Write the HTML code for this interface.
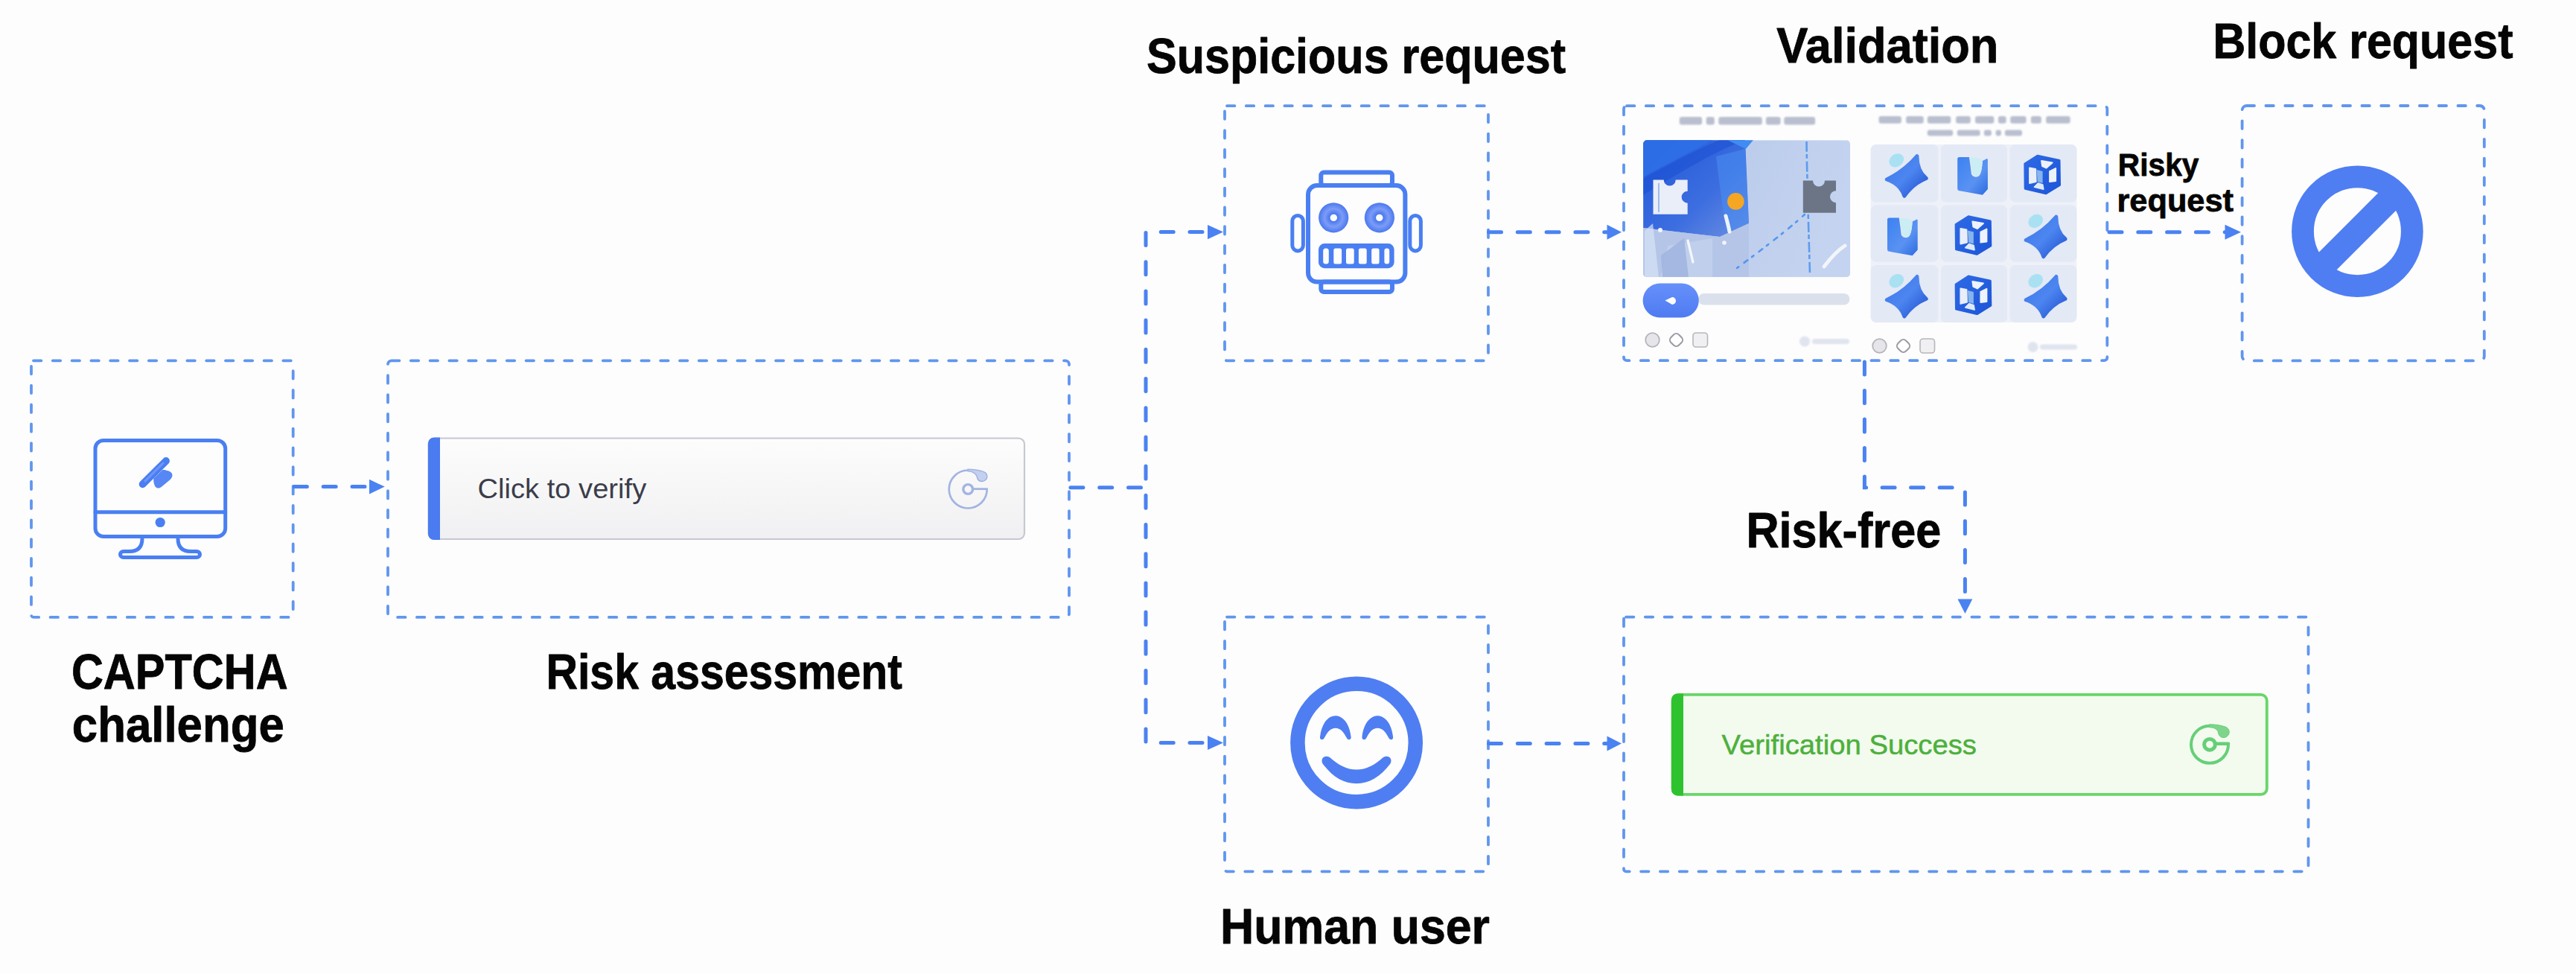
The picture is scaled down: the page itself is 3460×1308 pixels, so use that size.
<!DOCTYPE html>
<html><head><meta charset="utf-8"><title>CAPTCHA flow</title>
<style>
html,body{margin:0;padding:0;background:#fdfdfd;width:3460px;height:1308px;overflow:hidden}
svg{display:block}
.h{font-family:"Liberation Sans",sans-serif;font-weight:bold;fill:#050505;stroke:#050505;stroke-width:0.8;stroke-linejoin:round}
.b{fill:none;stroke:#6096ef;stroke-width:3.8;stroke-dasharray:10.4 15.4;stroke-linecap:round}
.c{fill:none;stroke:#4a82f2;stroke-width:5;stroke-dasharray:17 21.8;stroke-linecap:round}
.cv{stroke-dasharray:17 22.2}
.cr{stroke-dasharray:17 21.5}
.a{fill:#4a82f2}
.ic{fill:none;stroke:#4a7ff2;stroke-linecap:round;stroke-linejoin:round}
</style></head><body>
<svg width="3460" height="1308" viewBox="0 0 3460 1308">
<defs>
<linearGradient id="gBtn" x1="0" y1="0" x2="0" y2="1"><stop offset="0" stop-color="#fdfdfd"/><stop offset="1" stop-color="#f0f0f2"/></linearGradient>
<linearGradient id="gImg" x1="0" y1="0" x2="1" y2="1"><stop offset="0" stop-color="#2a63d8"/><stop offset="0.45" stop-color="#6e95e0"/><stop offset="1" stop-color="#c9d6ee"/></linearGradient>
<radialGradient id="gEye" cx="0.5" cy="0.5" r="0.5"><stop offset="0.25" stop-color="#4a78f0"/><stop offset="0.6" stop-color="#7c9cf6"/><stop offset="1" stop-color="#4a78f0"/></radialGradient>
<clipPath id="cImg"><rect x="2207.2" y="188.2" width="277.8" height="184" rx="5"/></clipPath>
<filter id="fBlur" x="-10%" y="-50%" width="120%" height="200%"><feGaussianBlur stdDeviation="1.2"/></filter>
<linearGradient id="gBase" x1="0" y1="0" x2="1" y2="0.3"><stop offset="0" stop-color="#a7bde6"/><stop offset="0.5" stop-color="#bccdec"/><stop offset="1" stop-color="#c4d3ef"/></linearGradient>
<linearGradient id="gDeep" x1="0" y1="0" x2="1" y2="1"><stop offset="0" stop-color="#1f57d8"/><stop offset="0.6" stop-color="#3d6ee0"/><stop offset="1" stop-color="#6d90e0"/></linearGradient>
<linearGradient id="gKnob" x1="0" y1="0" x2="0" y2="1"><stop offset="0" stop-color="#6690fa"/><stop offset="1" stop-color="#4f7bf2"/></linearGradient>
<linearGradient id="gStar" x1="0" y1="0" x2="1" y2="1"><stop offset="0" stop-color="#3a78ea"/><stop offset="0.5" stop-color="#4d86f0"/><stop offset="1" stop-color="#1f4fd0"/></linearGradient>
<linearGradient id="gCup" x1="0" y1="0" x2="1" y2="1"><stop offset="0" stop-color="#3b82f0"/><stop offset="0.6" stop-color="#5a92f2"/><stop offset="1" stop-color="#2a6be0"/></linearGradient>
<linearGradient id="gCube" x1="0" y1="0" x2="1" y2="1"><stop offset="0" stop-color="#2d6ae6"/><stop offset="1" stop-color="#1d55d8"/></linearGradient>
</defs>

<!-- ============ BOXES ============ -->
<rect class="b" x="42" y="484.3" width="351.7" height="344.6" rx="3"/>
<rect class="b" x="521" y="484.3" width="915" height="344.6" rx="5"/>
<rect class="b" x="1645" y="142.2" width="354" height="342.1" rx="3"/>
<rect class="b" x="2181" y="142.2" width="649.3" height="342" rx="4"/>
<rect class="b" x="3011.6" y="142" width="325.2" height="342.4" rx="6"/>
<rect class="b" x="1645" y="828.6" width="354" height="341.7" rx="3"/>
<rect class="b" x="2181" y="828.6" width="919.5" height="341.7" rx="3"/>

<!-- ============ CONNECTORS ============ -->
<!-- CAPTCHA -> Risk -->
<path class="c" d="M395.4 653.6 H494"/>
<path class="a" d="M496 643.8 L516.8 653.6 L496 663.4 Z"/>
<!-- Risk -> split -->
<path class="c" d="M1437.9 654.7 H1537"/>
<path class="c cv" d="M1539 312.5 V998"/>
<!-- top branch -->
<path class="c" d="M1559.2 311.6 H1622"/>
<path class="a" d="M1622 302 L1643 311.6 L1622 321.2 Z"/>
<!-- bottom branch -->
<path class="c" d="M1559.2 997.5 H1622"/>
<path class="a" d="M1622 987.9 L1643 997.5 L1622 1007.1 Z"/>
<!-- Suspicious -> Validation -->
<path class="c" d="M1999.5 311.8 H2160"/>
<path class="a" d="M2158.5 301.8 L2178 311.8 L2158.5 321.8 Z"/>
<!-- Validation -> Block -->
<path class="c" d="M2833 311.8 H2990"/>
<path class="a" d="M2988.5 301.8 L3010 311.8 L2988.5 321.8 Z"/>
<!-- Validation -> Verification -->
<path class="c cr" d="M2504.4 486 V654.8 H2630"/>
<path class="c" d="M2639.4 661 V805"/>
<path class="a" d="M2629.5 804.6 L2649.3 804.6 L2639.4 824 Z"/>
<!-- Human -> Verification -->
<path class="c" d="M1999.5 998.5 H2160"/>
<path class="a" d="M2158.5 988.5 L2178 998.5 L2158.5 1008.5 Z"/>

<!-- ============ HEADINGS ============ -->
<text class="h" x="1540" y="97.6" font-size="66" textLength="563" lengthAdjust="spacingAndGlyphs">Suspicious request</text>
<text class="h" x="2386.2" y="84.3" font-size="66" textLength="298.2" lengthAdjust="spacingAndGlyphs">Validation</text>
<text class="h" x="2972.2" y="78.4" font-size="66" textLength="403.3" lengthAdjust="spacingAndGlyphs">Block request</text>
<text class="h" x="95.9" y="925.4" font-size="66" textLength="290.9" lengthAdjust="spacingAndGlyphs">CAPTCHA</text>
<text class="h" x="96.8" y="996" font-size="66" textLength="285" lengthAdjust="spacingAndGlyphs">challenge</text>
<text class="h" x="733.4" y="925" font-size="66" textLength="478.6" lengthAdjust="spacingAndGlyphs">Risk assessment</text>
<text class="h" x="2345.4" y="735.2" font-size="66" textLength="261.8" lengthAdjust="spacingAndGlyphs">Risk-free</text>
<text class="h" x="1639" y="1267.2" font-size="66" textLength="362" lengthAdjust="spacingAndGlyphs">Human user</text>
<text class="h" x="2844.8" y="235.8" font-size="43" textLength="108.6" lengthAdjust="spacingAndGlyphs">Risky</text>
<text class="h" x="2843.5" y="283.9" font-size="43" textLength="156.5" lengthAdjust="spacingAndGlyphs">request</text>

<!-- ============ MONITOR ICON ============ -->
<g class="ic" stroke-width="5">
<rect x="128" y="591.4" width="174.7" height="129.1" rx="11"/>
<path d="M128 687.7 H302.7"/>
<path d="M191 723 C191 734 186 740.5 174 740.5 H166 C160 740.5 160 748.5 166 748.5 H264 C270 748.5 270 740.5 264 740.5 H256 C244 740.5 239 734 239 723"/>
</g>
<circle cx="215.2" cy="701.5" r="6.6" fill="#4a7ff2"/>
<path d="M191.6 650.3 L223 619" stroke="#4a7ff2" stroke-width="9.8" stroke-linecap="round" fill="none"/>
<path d="M206.3 642.4 L218 631.2 C220 630.6 222.6 631.2 224.4 632.1 C227.5 632.6 230.2 634 231.2 636.6 C232.2 639.6 230.6 642.4 228.1 644.4 L217 653.7 C215.3 655 213.6 655.8 212 655.5 C209.8 655.2 208.3 653.8 207.6 651.5 C206.6 648.6 206 645.6 206.3 642.4 Z" fill="#5687f4"/>
<path d="M195 646 L219 622" stroke="#7da1f8" stroke-width="3" stroke-linecap="round" opacity="0.7"/>

<!-- ============ CLICK TO VERIFY BUTTON ============ -->
<rect x="575.5" y="588.5" width="800.5" height="135.5" rx="8" fill="url(#gBtn)" stroke="#c6c8d2" stroke-width="2.2"/>
<path d="M583 587.5 H591 V725 H583 A8 8 0 0 1 575 717 V595.5 A8 8 0 0 1 583 587.5 Z" fill="#4a7bf0"/>
<text x="641.5" y="669.4" font-family="Liberation Sans, sans-serif" font-size="37.8" fill="#3c3d4a" textLength="226.7" lengthAdjust="spacingAndGlyphs">Click to verify</text>
<g transform="translate(1300.2 657)" stroke="#a3b4e2" fill="none" stroke-linecap="round">
<path d="M25.5 0 A25.5 25.5 0 1 1 0 -25.5" stroke-width="2.7"/>
<path d="M0 -26.8 C7 -26.8 13.5 -26 18.5 -24.2 C23 -23.2 25.6 -20.5 25.6 -17.1 C25.6 -13.4 22.4 -10.6 18.9 -10.6 C15.4 -10.6 12.8 -13 12.2 -16.5 C11.6 -20 7 -24.2 0 -24.2 Z" fill="#c4d0ef" stroke-width="1.6"/>
<circle cx="0" cy="0" r="6.4" stroke-width="3.4"/>
<path d="M6 -0.3 H25.5" stroke-width="2.8"/>
</g>

<!-- ============ ROBOT ============ -->
<g class="ic" stroke-width="6">
<rect x="1757" y="249" width="130.4" height="129.6" rx="12"/>
<rect x="1774.3" y="231.5" width="95.7" height="17.5" rx="4"/>
<rect x="1774.3" y="378.6" width="95.7" height="13.4" rx="4"/>
</g>
<g class="ic" stroke-width="5">
<rect x="1735.8" y="289.5" width="14.6" height="47.4" rx="7.3"/>
<rect x="1893.8" y="289.5" width="14.6" height="47.4" rx="7.3"/>
</g>
<circle cx="1791.2" cy="292.3" r="20.1" fill="url(#gEye)"/><circle cx="1791.3" cy="292.4" r="4.7" fill="#fdfdfd"/>
<circle cx="1852.9" cy="292.3" r="20.1" fill="url(#gEye)"/><circle cx="1852.8" cy="292.4" r="4.7" fill="#fdfdfd"/>
<rect x="1771" y="327.1" width="101.6" height="33.1" rx="8" fill="#4a7ff2"/>
<g fill="#fdfdfd">
<rect x="1777.2" y="333.6" width="7.6" height="20.9" rx="3.5"/>
<rect x="1791.3" y="333.6" width="10.8" height="20.9" rx="2.5"/>
<rect x="1808" y="333.6" width="10.7" height="20.9" rx="2.5"/>
<rect x="1824.9" y="333.6" width="10.8" height="20.9" rx="2.5"/>
<rect x="1842.2" y="333.6" width="10.4" height="20.9" rx="2.5"/>
<rect x="1859.4" y="333.6" width="6.8" height="20.9" rx="3.3"/>
</g>

<!-- ============ SMILEY ============ -->
<circle cx="1822.1" cy="997.5" r="79.2" fill="none" stroke="#4f7ef3" stroke-width="19.5"/>
<g fill="#4f7ef3">
<path d="M1773 989.5 C1775 971.5 1784 961.3 1793.8 961.3 C1803.6 961.3 1812.6 971.5 1814.6 989.5 Q1815 993.2 1811.8 993.2 Q1809.6 993.2 1808.5 990.6 C1805 983 1800 977.7 1793.8 977.7 C1787.6 977.7 1782.6 983 1779.1 990.6 Q1778 993.2 1775.8 993.2 Q1772.6 993.2 1773 989.5 Z"/>
<path d="M1773 989.5 C1775 971.5 1784 961.3 1793.8 961.3 C1803.6 961.3 1812.6 971.5 1814.6 989.5 Q1815 993.2 1811.8 993.2 Q1809.6 993.2 1808.5 990.6 C1805 983 1800 977.7 1793.8 977.7 C1787.6 977.7 1782.6 983 1779.1 990.6 Q1778 993.2 1775.8 993.2 Q1772.6 993.2 1773 989.5 Z" transform="translate(56.5 0)"/>
<path d="M1776.5 1025.5 C1790 1043.5 1805 1052.2 1822 1052.2 C1839 1052.2 1854 1043.5 1867.5 1025.5 C1871 1019 1865 1013 1858 1017 C1847 1027 1835 1033.6 1822 1033.6 C1809 1033.6 1797 1027 1786 1017 C1779 1013 1773 1019 1776.5 1025.5 Z"/>
</g>

<!-- ============ BLOCK ICON ============ -->
<circle cx="3166.4" cy="310.7" r="73.4" fill="none" stroke="#4f7ef3" stroke-width="29.8"/>
<rect x="3093" y="293.9" width="146.8" height="33.6" fill="#4f7ef3" transform="rotate(-45 3166.4 310.7)"/>

<!-- ============ VERIFICATION SUCCESS ============ -->
<rect x="2246.5" y="932.9" width="798.3" height="134" rx="8" fill="#f3fbef" stroke="#68d668" stroke-width="3.8"/>
<path d="M2253 931.4 H2261 V1068.4 H2253 A8 8 0 0 1 2245 1060.4 V939.4 A8 8 0 0 1 2253 931.4 Z" fill="#2fc22f"/>
<text x="2312.6" y="1012.5" font-family="Liberation Sans, sans-serif" font-size="37.5" fill="#4db03c" stroke="#4db03c" stroke-width="0.5" textLength="342.4" lengthAdjust="spacingAndGlyphs">Verification Success</text>
<g transform="translate(2968 999.8)" stroke="#66cf78" fill="none" stroke-linecap="round">
<path d="M25 0 A25 25 0 1 1 0 -25" stroke-width="4"/>
<path d="M0 -27 C7 -27 14 -26 19 -24.3 C23.5 -23.5 26.2 -20.5 26.2 -16.8 C26.2 -12.7 22.8 -9.3 18.7 -9.3 C14.6 -9.3 12 -12 11.5 -16 C11 -19.5 7 -23 0 -23 Z" fill="#7fd48c" stroke-width="1"/>
<circle cx="0" cy="0" r="7.4" stroke-width="5"/>
<path d="M7 -1 H25" stroke-width="4.6"/>
</g>

<!-- ============ VALIDATION CONTENT ============ -->
<g filter="url(#fBlur)" fill="#b9bfcf">
<rect x="2255.8" y="157" width="30.3" height="10.5" rx="3"/>
<rect x="2291.7" y="157" width="11.1" height="10.5" rx="3"/>
<rect x="2308.3" y="157" width="58.5" height="10.5" rx="3"/>
<rect x="2371.9" y="157" width="19.7" height="10.5" rx="3"/>
<rect x="2396.3" y="157" width="41.8" height="10.5" rx="3"/>
<rect x="2523.5" y="156" width="30.4" height="9.8" rx="3"/>
<rect x="2560.1" y="156" width="23.6" height="9.8" rx="3"/>
<rect x="2588.8" y="156" width="31.5" height="9.8" rx="3"/>
<rect x="2627.1" y="156" width="19.7" height="9.8" rx="3"/>
<rect x="2653" y="156" width="25.3" height="9.8" rx="3"/>
<rect x="2683.9" y="156" width="10.7" height="9.8" rx="3"/>
<rect x="2700.2" y="156" width="21.4" height="9.8" rx="3"/>
<rect x="2727.8" y="156" width="14.1" height="9.8" rx="3"/>
<rect x="2748.1" y="156" width="32.6" height="9.8" rx="3"/>
<rect x="2588.8" y="174.6" width="34.3" height="8" rx="3"/>
<rect x="2628.8" y="174.6" width="30.9" height="8" rx="3"/>
<rect x="2664.8" y="174.6" width="10.1" height="8" rx="3"/>
<rect x="2680.6" y="174.6" width="7.3" height="8" rx="3"/>
<rect x="2692.9" y="174.6" width="23.1" height="8" rx="3"/>
</g>
<g clip-path="url(#cImg)">
<rect x="2207.2" y="188.2" width="277.8" height="184" fill="url(#gBase)"/>
<path d="M2207 188 H2344 L2349 300 L2310 318 L2207 306 Z" fill="url(#gDeep)"/>
<path d="M2207 188 H2300 C2270 205 2235 222 2207 238 Z" fill="#2e6fe6" opacity="0.9"/>
<path d="M2207 240 C2240 222 2280 200 2310 188 H2344 C2300 205 2250 235 2207 262 Z" fill="#1a4fd2" opacity="0.55"/>
<path d="M2305 210 L2344 200 L2349 300 L2318 312 Z" fill="#4a8cf0" opacity="0.6"/>
<path d="M2207 306 L2310 318 L2349 300 V372 H2207 Z" fill="#b4c5e8"/>
<path d="M2240 330 L2300 320 L2300 372 H2230 Z" fill="#c3d1ec" opacity="0.8"/>
<path d="M2320 188 L2355 188 L2345 200 Z" fill="#3f8cf2"/>
<path d="M2231 343 L2262 320 L2268 372 H2233 Z" fill="#9fb4df" opacity="0.85"/>
<path d="M2209 310 L2220 300 L2228 372 H2209 Z" fill="#d6e2f7" opacity="0.7"/>
<path d="M2318 290 C2320 298 2322 305 2323 311" stroke="#ffffff" stroke-width="5" stroke-linecap="round" fill="none" opacity="0.9"/>
<path d="M2267 323 L2274 352" stroke="#f4f7fd" stroke-width="3.2" stroke-linecap="round" fill="none"/>
<circle cx="2230" cy="309" r="3" fill="#f2f5fb"/><circle cx="2316" cy="326" r="2.8" fill="#f2f5fb"/>
<path d="M2426.5 190 C2427 230 2429 300 2431 368" stroke="#3a8af0" stroke-width="2.6" fill="none" stroke-dasharray="14 3 6 4" opacity="0.75"/>
<path d="M2333 360 C2360 340 2400 310 2424 288" stroke="#3a8af0" stroke-width="2.6" fill="none" stroke-dasharray="3 9 6 7" stroke-linecap="round" opacity="0.8"/>
<path d="M2450 358 C2460 345 2470 335 2478 330" stroke="#f2f5fb" stroke-width="5" fill="none" stroke-linecap="round"/>
<path d="M2220.5 241.6 H2234.7 A8 8 0 0 0 2250.7 241.6 H2266.7 V256.7 A8 8 0 0 0 2266.7 272.7 V287.8 H2220.5 Z" fill="#e9eef8"/>
<path d="M2228 246 V285" stroke="#7fa6ec" stroke-width="2" opacity="0.7"/>
<path d="M2421.8 242.6 H2435.0 A8 8 0 0 0 2451.0 242.6 H2466.0 V256.2 A8 8 0 0 0 2466.0 272.2 V285.8 H2421.8 Z" fill="#6c7586"/>
<circle cx="2331.4" cy="270.4" r="11.3" fill="#f5a623"/>
</g>
<rect x="2281" y="393.9" width="203.4" height="15.7" rx="7.8" fill="#dbe1ec"/>
<rect x="2206.6" y="380.5" width="75.2" height="46" rx="23" fill="url(#gKnob)"/>
<path d="M2236.5 403.5 L2246 399 A5 5 0 1 1 2246 409 Z" fill="#ffffff"/>
<circle cx="2219.5" cy="456.5" r="9.3" fill="#e6e6ea" stroke="#b4b4ba" stroke-width="1.8"/>
<rect x="2244.0" y="449.0" width="15" height="15" rx="5" fill="#fff" stroke="#9a9aa2" stroke-width="2" transform="rotate(45 2251.5 456.5)"/>
<rect x="2274.0" y="447.0" width="19.5" height="19" rx="4" fill="#f0f0f2" stroke="#b6b6bc" stroke-width="1.6"/>
<circle cx="2524.5" cy="464.5" r="9.3" fill="#e6e6ea" stroke="#b4b4ba" stroke-width="1.8"/>
<rect x="2549.0" y="457.0" width="15" height="15" rx="5" fill="#fff" stroke="#9a9aa2" stroke-width="2" transform="rotate(45 2556.5 464.5)"/>
<rect x="2579.0" y="455.0" width="19.5" height="19" rx="4" fill="#f0f0f2" stroke="#b6b6bc" stroke-width="1.6"/>
<g fill="#dfe4ef" filter="url(#fBlur)"><circle cx="2424" cy="458.5" r="7"/><rect x="2434" y="455" width="50" height="7" rx="3.5"/><circle cx="2730.5" cy="466" r="7"/><rect x="2740" y="462.5" width="50" height="7" rx="3.5"/></g>
<rect x="2512.7" y="194.1" width="276.7" height="239" rx="8" fill="#eef1f8"/>
<rect x="2512.7" y="194.1" width="90.7" height="77.4" rx="7" fill="#e3e9f5"/>
<rect x="2512.7" y="275.6" width="90.7" height="76.2" rx="7" fill="#e3e9f5"/>
<rect x="2512.7" y="355.9" width="90.7" height="77.2" rx="7" fill="#e3e9f5"/>
<rect x="2606.9" y="194.1" width="89.0" height="77.4" rx="7" fill="#e3e9f5"/>
<rect x="2606.9" y="275.6" width="89.0" height="76.2" rx="7" fill="#e3e9f5"/>
<rect x="2606.9" y="355.9" width="89.0" height="77.2" rx="7" fill="#e3e9f5"/>
<rect x="2699.6" y="194.1" width="89.8" height="77.4" rx="7" fill="#e3e9f5"/>
<rect x="2699.6" y="275.6" width="89.8" height="76.2" rx="7" fill="#e3e9f5"/>
<rect x="2699.6" y="355.9" width="89.8" height="77.2" rx="7" fill="#e3e9f5"/>
<ellipse cx="2547.3" cy="215.4" rx="10.5" ry="8.5" fill="#a9e1f3" transform="rotate(-35 2547.3 215.4)"/>
<path d="M2574.9 209.7 Q2575.0 229.3 2587.2 239.5 Q2569.5 246.7 2557.9 263.1 Q2552.3 247.1 2534.3 240.9 Q2557.8 229.8 2574.9 209.7 Z" fill="url(#gStar)" stroke="url(#gStar)" stroke-width="5" stroke-linejoin="round"/>
<path d="M2629.2 213.1 Q2629.2 211.1 2631.9 211.1 H2644.9 Q2646.9 224.1 2647.9 234.1 Q2650.9 239.1 2656.9 237.1 Q2661.9 235.1 2662.9 216.1 L2668.9 213.1 Q2669.9 213.1 2669.9 215.1 V254.1 L2662.9 261.7 L2630.9 256.1 Q2629.2 255.6 2629.2 253.1 Z" fill="url(#gCup)"/>
<path d="M2645.9 212.1 Q2654.9 210.1 2662.9 215.1 Q2661.9 234.1 2656.9 236.1 Q2650.9 237.1 2648.9 232.1 Q2647.9 222.1 2645.9 212.1 Z" fill="#cbedf4"/>
<path d="M2719.8 220.1 L2736.7 209.2 L2766.0 215.4 L2766.5 248.4 L2748.1 259.8 L2720.2 253.2 Z" fill="url(#gCube)" stroke="url(#gCube)" stroke-width="3" stroke-linejoin="round"/>
<path d="M2742.1 216.1 L2756.6 218.6 L2748.6 225.6 L2743.1 223.1 Z" fill="#eef2fa" stroke="#eef2fa" stroke-width="2" stroke-linejoin="round"/>
<path d="M2726.1 225.6 L2734.1 227.1 L2734.6 244.1 L2726.1 246.1 Z" fill="#e9eef8" stroke="#e9eef8" stroke-width="2" stroke-linejoin="round"/>
<path d="M2753.1 230.1 L2761.1 226.1 L2761.1 243.1 L2753.1 244.1 Z" fill="#eef2fa" stroke="#eef2fa" stroke-width="2" stroke-linejoin="round"/>
<path d="M2732.6 251.1 L2744.6 254.1 L2743.6 248.1 L2737.6 246.1 Z" fill="#dfeaf6" stroke="#dfeaf6" stroke-width="2" stroke-linejoin="round"/>
<path d="M2735.6 228.1 L2743.6 230.1 L2743.6 246.1 L2736.6 244.1 Z" fill="#9fc9ef" opacity="0.8"/>
<path d="M2535.0 294.6 Q2535.0 292.6 2537.7 292.6 H2550.7 Q2552.7 305.6 2553.7 315.6 Q2556.7 320.6 2562.7 318.6 Q2567.7 316.6 2568.7 297.6 L2574.7 294.6 Q2575.7 294.6 2575.7 296.6 V335.6 L2568.7 343.2 L2536.7 337.6 Q2535.0 337.1 2535.0 334.6 Z" fill="url(#gCup)"/>
<path d="M2551.7 293.6 Q2560.7 291.6 2568.7 296.6 Q2567.7 315.6 2562.7 317.6 Q2556.7 318.6 2554.7 313.6 Q2553.7 303.6 2551.7 293.6 Z" fill="#cbedf4"/>
<path d="M2627.1 301.6 L2644.0 290.7 L2673.3 296.9 L2673.8 329.9 L2655.4 341.3 L2627.5 334.7 Z" fill="url(#gCube)" stroke="url(#gCube)" stroke-width="3" stroke-linejoin="round"/>
<path d="M2649.4 297.6 L2663.9 300.1 L2655.9 307.1 L2650.4 304.6 Z" fill="#eef2fa" stroke="#eef2fa" stroke-width="2" stroke-linejoin="round"/>
<path d="M2633.4 307.1 L2641.4 308.6 L2641.9 325.6 L2633.4 327.6 Z" fill="#e9eef8" stroke="#e9eef8" stroke-width="2" stroke-linejoin="round"/>
<path d="M2660.4 311.6 L2668.4 307.6 L2668.4 324.6 L2660.4 325.6 Z" fill="#eef2fa" stroke="#eef2fa" stroke-width="2" stroke-linejoin="round"/>
<path d="M2639.9 332.6 L2651.9 335.6 L2650.9 329.6 L2644.9 327.6 Z" fill="#dfeaf6" stroke="#dfeaf6" stroke-width="2" stroke-linejoin="round"/>
<path d="M2642.9 309.6 L2650.9 311.6 L2650.9 327.6 L2643.9 325.6 Z" fill="#9fc9ef" opacity="0.8"/>
<ellipse cx="2734.2" cy="296.9" rx="10.5" ry="8.5" fill="#a9e1f3" transform="rotate(-35 2734.2 296.9)"/>
<path d="M2761.8 291.2 Q2761.9 310.8 2774.1 321.0 Q2756.4 328.2 2744.8 344.6 Q2739.2 328.6 2721.2 322.4 Q2744.7 311.3 2761.8 291.2 Z" fill="url(#gStar)" stroke="url(#gStar)" stroke-width="5" stroke-linejoin="round"/>
<ellipse cx="2547.3" cy="377.2" rx="10.5" ry="8.5" fill="#a9e1f3" transform="rotate(-35 2547.3 377.2)"/>
<path d="M2574.9 371.5 Q2575.0 391.1 2587.2 401.3 Q2569.5 408.5 2557.9 424.9 Q2552.3 408.9 2534.3 402.7 Q2557.8 391.6 2574.9 371.5 Z" fill="url(#gStar)" stroke="url(#gStar)" stroke-width="5" stroke-linejoin="round"/>
<path d="M2627.1 381.9 L2644.0 371.0 L2673.3 377.2 L2673.8 410.2 L2655.4 421.6 L2627.5 415.0 Z" fill="url(#gCube)" stroke="url(#gCube)" stroke-width="3" stroke-linejoin="round"/>
<path d="M2649.4 377.9 L2663.9 380.4 L2655.9 387.4 L2650.4 384.9 Z" fill="#eef2fa" stroke="#eef2fa" stroke-width="2" stroke-linejoin="round"/>
<path d="M2633.4 387.4 L2641.4 388.9 L2641.9 405.9 L2633.4 407.9 Z" fill="#e9eef8" stroke="#e9eef8" stroke-width="2" stroke-linejoin="round"/>
<path d="M2660.4 391.9 L2668.4 387.9 L2668.4 404.9 L2660.4 405.9 Z" fill="#eef2fa" stroke="#eef2fa" stroke-width="2" stroke-linejoin="round"/>
<path d="M2639.9 412.9 L2651.9 415.9 L2650.9 409.9 L2644.9 407.9 Z" fill="#dfeaf6" stroke="#dfeaf6" stroke-width="2" stroke-linejoin="round"/>
<path d="M2642.9 389.9 L2650.9 391.9 L2650.9 407.9 L2643.9 405.9 Z" fill="#9fc9ef" opacity="0.8"/>
<ellipse cx="2734.2" cy="377.2" rx="10.5" ry="8.5" fill="#a9e1f3" transform="rotate(-35 2734.2 377.2)"/>
<path d="M2761.8 371.5 Q2761.9 391.1 2774.1 401.3 Q2756.4 408.5 2744.8 424.9 Q2739.2 408.9 2721.2 402.7 Q2744.7 391.6 2761.8 371.5 Z" fill="url(#gStar)" stroke="url(#gStar)" stroke-width="5" stroke-linejoin="round"/>
</svg>
</body></html>
